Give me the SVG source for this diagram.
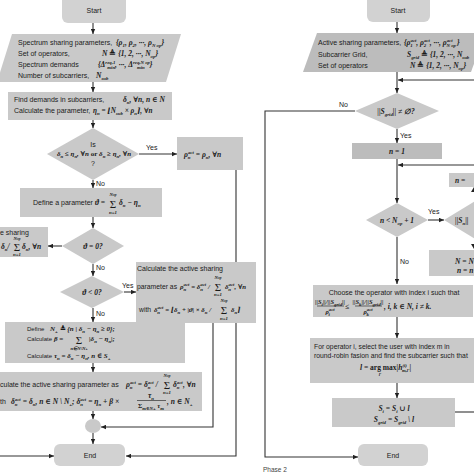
<svg xmlns="http://www.w3.org/2000/svg" width="474" height="474" viewBox="0 0 474 474">
<defs>
<style>
.box{fill:#c9c9c9}
.dk{fill:#bcbcbc}
.term{fill:#d2d2d2}
.ln{stroke:#333;stroke-width:1.1;fill:none}
.t{font-family:"Liberation Sans",Arial,sans-serif;font-size:7px;fill:#1a1a1a}
.m{font-family:"Liberation Serif","Times New Roman","DejaVu Serif",serif;font-style:italic;font-weight:bold;font-size:7.5px;fill:#1a1a1a}
.u{font-style:normal}
.sb{font-size:4.8px;baseline-shift:-1.6px}
.sp{font-size:4.8px;baseline-shift:3px}
.sm{font-family:"Liberation Serif","Times New Roman",serif;font-style:italic;font-weight:bold;font-size:4.8px;fill:#1a1a1a;text-anchor:middle}
.sig{font-family:"Liberation Serif","DejaVu Serif",serif;font-size:11px;fill:#1a1a1a;text-anchor:middle}
.c{text-anchor:middle}
</style>
<marker id="ah" viewBox="0 0 8 8" refX="8" refY="4" markerWidth="5" markerHeight="5" orient="auto" markerUnits="userSpaceOnUse"><path d="M0,0.5 L8,4 L0,7.5z" fill="#222"/></marker>
</defs>
<rect width="474" height="474" fill="#ffffff"/>

<g id="connectors">
<path class="ln" d="M93,23 V34" marker-end="url(#ah)"/>
<path class="ln" d="M93,82 V92" marker-end="url(#ah)"/>
<path class="ln" d="M93,120 V128" marker-end="url(#ah)"/>
<path class="ln" d="M139,154 H177" marker-end="url(#ah)"/>
<path class="ln" d="M93,180 V188" marker-end="url(#ah)"/>
<path class="ln" d="M93,217 V228" marker-end="url(#ah)"/>
<path class="ln" d="M62,246 H48" marker-end="url(#ah)"/>
<path class="ln" d="M93,264 V276" marker-end="url(#ah)"/>
<path class="ln" d="M124,292 H136" marker-end="url(#ah)"/>
<path class="ln" d="M93,308 V322" marker-end="url(#ah)"/>
<path class="ln" d="M93,363 V372" marker-end="url(#ah)"/>
<path class="ln" d="M93,411 V419" marker-end="url(#ah)"/>
<path class="ln" d="M93,433 V444" marker-end="url(#ah)"/>
<path class="ln" d="M236,170 V456 H126" marker-end="url(#ah)"/>
<path class="ln" d="M213,323 V427 H101" marker-end="url(#ah)"/>
<path class="ln" d="M0,456 H54" marker-end="url(#ah)"/>
<path class="ln" d="M397,22 V33" marker-end="url(#ah)"/>
<path class="ln" d="M397,72 V93" marker-end="url(#ah)"/>
<path class="ln" d="M474,80 H398" marker-end="url(#ah)"/>
<path class="ln" d="M355,111 H265 V457 H358" marker-end="url(#ah)"/>
<path class="ln" d="M397,129 V143" marker-end="url(#ah)"/>
<path class="ln" d="M397,159 V203" marker-end="url(#ah)"/>
<path class="ln" d="M474,165 H398" marker-end="url(#ah)"/>
<path class="ln" d="M428,220 H444" marker-end="url(#ah)"/>
<path class="ln" d="M397,237 V284" marker-end="url(#ah)"/>
<path class="ln" d="M397,317 V338" marker-end="url(#ah)"/>
<path class="ln" d="M397,383 V398" marker-end="url(#ah)"/>
<path class="ln" d="M455,412 H474"/>
<path d="M474,187 L471,192 L474,192z" fill="#222"/>
<path d="M474,249 L471,244 L474,244z" fill="#222"/>
<text class="t" x="146" y="150">Yes</text>
<text class="t" x="96" y="186">No</text>
<text class="t" x="96" y="270">No</text>
<text class="t" x="122" y="288">Yes</text>
<text class="t" x="96" y="316">No</text>
<text class="t" x="339" y="107">No</text>
<text class="t" x="400" y="138">Yes</text>
<text class="t" x="428" y="214">Yes</text>
<text class="t" x="400" y="264">No</text>
</g>

<!-- Left: phase 1 -->
<g id="start1"><rect class="term" x="62" y="-6" width="64" height="29" rx="6"/><text class="t c" x="94" y="13">Start</text></g>

<g id="input1">
<polygon class="box" points="12,34 181,34 166,82 -3,82"/>
<text class="t" x="18" y="45">Spectrum sharing parameters,</text>
<text class="m" x="116" y="45">{ρ<tspan class="sb">1</tspan>, ρ<tspan class="sb">2</tspan>, ···, ρ<tspan class="sb">N op</tspan>}</text>
<text class="t" x="18" y="56">Set of operators,</text>
<text class="m" x="102" y="56">N <tspan class="u">≜</tspan> {1, 2, ···, N<tspan class="sb">op</tspan>}</text>
<text class="t" x="18" y="67">Spectrum demands</text>
<text class="m" x="98" y="67">{Δ<tspan class="sp">req,1</tspan><tspan class="sb" dx="-8">min</tspan>, ···, Δ<tspan class="sp">req,N op</tspan><tspan class="sb" dx="-13">min</tspan><tspan dx="5">}</tspan></text>
<text class="t" x="18" y="78">Number of subcarriers,</text>
<text class="m" x="96" y="78">N<tspan class="sb">sub</tspan></text>
</g>

<g id="demands">
<rect class="box" x="8" y="92" width="164" height="28"/>
<text class="t" x="14" y="102">Find demands in subcarriers,</text>
<text class="m" x="123" y="102">δ<tspan class="sb">n</tspan>, ∀n, n ∈ N</text>
<text class="t" x="14" y="113">Calculate the parameter,</text>
<text class="m" x="93" y="113" style="font-size:7.2px">η<tspan class="sb">n</tspan> = ⌊N<tspan class="sb">sub</tspan> × ρ<tspan class="sb">n</tspan>⌉, ∀n</text>
</g>

<g id="cond1">
<polygon class="box" points="93,128 139,154 93,180 47,154"/>
<text class="t c" x="93" y="147">Is</text>
<text class="m c" x="94" y="156" style="font-size:7px">δ<tspan class="sb">n</tspan> ≤ η<tspan class="sb">n</tspan>, ∀n <tspan class="u">or</tspan> δ<tspan class="sb">n</tspan> ≥ η<tspan class="sb">n</tspan>, ∀n</text>
<text class="t c" x="93" y="166">?</text>
</g>

<g id="equal">
<rect class="box" x="177" y="137" width="66" height="33"/>
<text class="m" x="184" y="157">ρ<tspan class="sp">act</tspan><tspan class="sb" dx="-6">n</tspan><tspan dx="3.5"> = ρ</tspan><tspan class="sb">n</tspan>, ∀n</text>
</g>

<g id="define">
<rect class="box" x="20" y="188" width="142" height="29"/>
<text class="t" x="33" y="205">Define a parameter</text>
<text class="m" x="95" y="205">ϑ =</text>
<text class="sig" x="113" y="208">Σ</text>
<text class="sm" x="113" y="196">N<tspan style="font-size:3.6px">op</tspan></text>
<text class="sm" x="113" y="214">n=1</text>
<text class="m" x="119" y="205">δ<tspan class="sb">n</tspan> − η<tspan class="sb">n</tspan></text>
</g>

<g id="cond2">
<polygon class="box" points="93,228 124,246 93,264 62,246"/>
<text class="m c" x="93" y="249">ϑ = 0?</text>
</g>

<g id="share0">
<rect class="box" x="-2" y="227" width="50" height="30"/>
<text class="t" x="0" y="235">e sharing</text>
<text class="m" x="1" y="249">δ<tspan class="sb">n</tspan>/</text>
<text class="sig" x="17" y="251">Σ</text>
<text class="sm" x="17" y="240">N<tspan style="font-size:3.6px">op</tspan></text>
<text class="sm" x="17" y="256">n=1</text>
<text class="m" x="22" y="249">δ<tspan class="sb">n</tspan>, ∀n</text>
</g>

<g id="cond3">
<polygon class="box" points="92,276 124,292 92,308 60,292"/>
<text class="m c" x="92" y="295">ϑ &lt; 0?</text>
</g>

<g id="shareneg">
<rect class="box" x="136" y="262" width="120" height="61"/>
<text class="t" x="137" y="271">Calculate the active sharing</text>
<text class="t" x="137" y="289" style="font-size:6.8px">parameter as</text>
<text class="m" x="180" y="289" style="font-size:6.8px">ρ<tspan class="sp">act</tspan><tspan class="sb" dx="-6">n</tspan><tspan dx="3.5"> = δ</tspan><tspan class="sp">act</tspan><tspan class="sb" dx="-6">n</tspan><tspan dx="3.5"> /</tspan></text>
<text class="sig" x="218" y="291">Σ</text>
<text class="sm" x="218" y="279">N<tspan style="font-size:3.6px">op</tspan></text>
<text class="sm" x="218" y="296">n=1</text>
<text class="m" x="225" y="289" style="font-size:6.8px">δ<tspan class="sp">act</tspan><tspan class="sb" dx="-6">n</tspan><tspan dx="3.5">, ∀n</tspan></text>
<text class="t" x="139" y="312" style="font-size:6.8px">with</text>
<text class="m" x="154" y="312" style="font-size:6.8px">δ<tspan class="sp">act</tspan><tspan class="sb" dx="-6">n</tspan><tspan dx="3.5"> = ⌊δ</tspan><tspan class="sb">n</tspan> + |ϑ| × δ<tspan class="sb">n</tspan> /</text>
<text class="sig" x="224" y="314">Σ</text>
<text class="sm" x="224" y="302">N<tspan style="font-size:3.6px">op</tspan></text>
<text class="sm" x="224" y="320">n=1</text>
<text class="m" x="231" y="312" style="font-size:6.8px">δ<tspan class="sb">n</tspan>⌉</text>
</g>

<g id="defineplus">
<rect class="box" x="5" y="322" width="180" height="41"/>
<text class="t" x="27" y="331" style="font-size:6px">Define</text>
<text class="m" x="50" y="331" style="font-size:7px">N<tspan class="sb">+</tspan> <tspan class="u">≜</tspan> {n | δ<tspan class="sb">n</tspan> − η<tspan class="sb">n</tspan> ≥ 0};</text>
<text class="t" x="27" y="341" style="font-size:6px">Calculate</text>
<text class="m" x="54" y="341" style="font-size:7px">β =</text>
<text class="sig" x="79" y="344">Σ</text>
<text class="sm" x="79" y="350">n∈N\N<tspan style="font-size:3.6px">+</tspan></text>
<text class="m" x="89" y="341" style="font-size:7px">|δ<tspan class="sb">n</tspan> − η<tspan class="sb">n</tspan>|;</text>
<text class="t" x="27" y="358" style="font-size:6px">Calculate</text>
<text class="m" x="54" y="358" style="font-size:7px">τ<tspan class="sb">n</tspan> = δ<tspan class="sb">n</tspan> − η<tspan class="sb">n</tspan>, n ∈ S<tspan class="sb">+</tspan></text>
</g>

<g id="sharepos">
<rect class="box" x="-2" y="372" width="204" height="39"/>
<text class="t" x="0" y="387">culate the active sharing parameter as</text>
<text class="m" x="126" y="387">ρ<tspan class="sp">act</tspan><tspan class="sb" dx="-6">n</tspan><tspan dx="3.5"> = δ</tspan><tspan class="sp">act</tspan><tspan class="sb" dx="-6">n</tspan><tspan dx="3.5"> /</tspan></text>
<text class="sig" x="167" y="389">Σ</text>
<text class="sm" x="167" y="377">N<tspan style="font-size:3.6px">op</tspan></text>
<text class="sm" x="167" y="394">n=1</text>
<text class="m" x="173" y="387">δ<tspan class="sp">act</tspan><tspan class="sb" dx="-6">n</tspan><tspan dx="3.5">, ∀n</tspan></text>
<text class="t" x="0" y="404">th</text>
<text class="m" x="11" y="404">δ<tspan class="sp">act</tspan><tspan class="sb" dx="-6">n</tspan><tspan dx="3.5"> = δ</tspan><tspan class="sb">n</tspan>, n ∈ N \ N<tspan class="sb">+</tspan>; δ<tspan class="sp">act</tspan><tspan class="sb" dx="-6">n</tspan><tspan dx="3.5"> = η</tspan><tspan class="sb">n</tspan> + β ×</text>
<text class="m c" x="151" y="398">τ<tspan class="sb">n</tspan></text>
<line x1="137" y1="400.5" x2="166" y2="400.5" stroke="#1a1a1a" stroke-width="0.6"/>
<text class="m c" x="151" y="408" style="font-size:6.5px"><tspan class="u">Σ</tspan><tspan class="sb">m∈N+</tspan> τ<tspan class="sb">m</tspan></text>
<text class="m" x="167" y="404">, n ∈ N<tspan class="sb">+</tspan></text>
</g>

<g id="merge"><ellipse class="box" cx="93" cy="426" rx="8" ry="7"/></g>

<g id="end1"><rect class="term" x="54" y="444" width="71" height="22" rx="6"/><text class="t c" x="90" y="458">End</text></g>

<!-- Right: phase 2 -->
<g id="start2"><rect class="term" x="367" y="-6" width="63" height="28" rx="6"/><text class="t c" x="398" y="13">Start</text></g>

<g id="input2">
<polygon class="dk" points="317,33 485,33 471,72 303,72"/>
<text class="t" x="318" y="45">Active sharing parameters,</text>
<text class="m" x="404" y="45">{ρ<tspan class="sp">act</tspan><tspan class="sb" dx="-6">1</tspan><tspan dx="3.5">, ρ</tspan><tspan class="sp">act</tspan><tspan class="sb" dx="-6">2</tspan><tspan dx="3.5">, ···, ρ</tspan><tspan class="sp">act</tspan><tspan class="sb" dx="-6">N op</tspan><tspan dx="1">}</tspan></text>
<text class="t" x="318" y="57">Subcarrier Grid,</text>
<text class="m" x="407" y="57">S<tspan class="sb">grid</tspan> <tspan class="u">≜</tspan> {1, 2, ···, N<tspan class="sb">sub</tspan></text>
<text class="t" x="318" y="68">Set of operators</text>
<text class="m" x="410" y="68">N <tspan class="u">≜</tspan> {1, 2, ···, N<tspan class="sb">op</tspan>}</text>
</g>

<g id="gridcheck">
<polygon class="box" points="397,93 439,111 397,129 355,111"/>
<text class="m c" x="396" y="114">||S<tspan class="sb">grid</tspan>|| ≠ ∅?</text>
</g>

<g id="ninit">
<rect class="dk" x="352" y="143" width="90" height="16"/>
<text class="m c" x="397" y="154">n = 1</text>
</g>

<g id="loopcheck">
<polygon class="box" points="397,203 428,220 397,237 366,220"/>
<text class="m c" x="397" y="223">n &lt; N<tspan class="sb">op</tspan> + 1</text>
</g>

<g id="ninc">
<rect class="box" x="449" y="173" width="30" height="14"/>
<text class="m" x="455" y="183">n =</text>
</g>

<g id="sncheck">
<polygon class="box" points="444,220 480,198 516,220 480,242"/>
<text class="m" x="455" y="223">||S<tspan class="sb">n</tspan>||</text>
</g>

<g id="nupdate">
<rect class="box" x="429" y="250" width="50" height="26"/>
<text class="m" x="455" y="264">N = N</text>
<text class="m" x="457" y="273">n = n</text>
</g>

<g id="choose">
<rect class="box" x="313" y="285" width="160" height="32"/>
<text class="t c" x="394" y="295">Choose the operator with index i such that</text>
<text class="m c" x="330" y="304" style="font-size:6.5px">||S<tspan class="sb">i</tspan>||/||S<tspan class="sb">grid</tspan>||</text>
<line x1="317" y1="306" x2="344" y2="306" stroke="#1a1a1a" stroke-width="0.6"/>
<text class="m c" x="330" y="314" style="font-size:6.5px">ρ<tspan class="sp">act</tspan><tspan class="sb" dx="-6">i</tspan></text>
<text class="m" x="345" y="309">≤</text>
<text class="m c" x="368" y="304" style="font-size:6.5px">||S<tspan class="sb">k</tspan>||/||S<tspan class="sb">grid</tspan>||</text>
<line x1="355" y1="306" x2="382" y2="306" stroke="#1a1a1a" stroke-width="0.6"/>
<text class="m c" x="368" y="314" style="font-size:6.5px">ρ<tspan class="sp">act</tspan><tspan class="sb" dx="-6">k</tspan></text>
<text class="m" x="384" y="309">, i, k ∈ N, i ≠ k.</text>
</g>

<g id="select">
<rect class="box" x="310" y="338" width="168" height="45"/>
<text class="t" x="314" y="349" style="font-size:6.8px">For operator i, select the user with index m in</text>
<text class="t" x="314" y="358" style="font-size:6.8px">round-robin fasion and find the subcarrier such that</text>
<text class="m" x="360" y="370">l = <tspan class="u">arg max</tspan>|h<tspan class="sp">(i)</tspan><tspan class="sb" dx="-5">m,l′</tspan><tspan dx="0">|</tspan></text>
<text class="sm" x="380" y="376">l′</text>
</g>

<g id="assign">
<rect class="box" x="332" y="398" width="123" height="29"/>
<text class="m c" x="394" y="411">S<tspan class="sb">i</tspan> = S<tspan class="sb">i</tspan> ∪ l</text>
<text class="m c" x="394" y="422">S<tspan class="sb">grid</tspan> = S<tspan class="sb">grid</tspan> \ l</text>
</g>

<g id="end2"><rect class="term" x="358" y="444" width="70" height="22" rx="6"/><text class="t c" x="393" y="458">End</text></g>

<text class="t" x="263" y="472" style="font-size:6.5px;fill:#444">Phase 2</text>
</svg>
